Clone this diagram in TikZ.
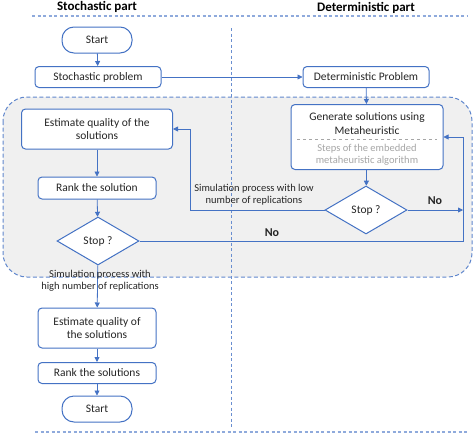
\documentclass[tikz,border=0pt]{standalone}
\usepackage{fontspec}
\setmainfont{Carlito}
\usetikzlibrary{arrows.meta,shapes.geometric}
\definecolor{lineblue}{HTML}{4472C4}
\definecolor{dashblue}{HTML}{8FAADC}
\definecolor{regiongray}{HTML}{F0F0F0}
\definecolor{softgray}{HTML}{A6A6A6}
\definecolor{inkgray}{HTML}{262626}
\tikzset{
  box/.style={draw=lineblue,line width=1pt,fill=white,rounded corners=4pt,align=center,inner sep=1pt,text=inkgray,font=\fontsize{11.5}{13.5}\selectfont},
  term/.style={box,rounded corners=12pt,minimum width=70pt,minimum height=26pt},
  stopdia/.style={diamond,draw=lineblue,line width=1pt,fill=white,minimum width=82pt,minimum height=48pt,shape aspect=1.7,inner sep=0pt,text=inkgray,font=\fontsize{11.5}{13.5}\selectfont},
  flow/.style={lineblue,line width=0.8pt,-{Triangle[length=5pt,width=5pt]}},
  sep/.style={dashblue,line width=1.3pt,dash pattern=on 3pt off 2.5pt},
  lbl/.style={align=center,text=inkgray,font=\fontsize{10.5}{12}\selectfont,inner sep=0pt}
}
\begin{document}
\begin{tikzpicture}[x=1pt,y=-1pt]
\useasboundingbox (0,0) rectangle (474,434);

\node[font=\fontsize{13}{15}\bfseries] (ttlS) at (97,7) {Stochastic part};
\node[font=\fontsize{13}{15}\bfseries] (ttlD) at (366,8) {Deterministic part};
\draw[sep] (32,16) -- (467,16);
\draw[sep] (35,432) -- (467,432);

\draw[lineblue!85,line width=1pt,dash pattern=on 4pt off 2.5pt,fill=regiongray,rounded corners=24pt] (3,97) rectangle (472,277);
\draw[lineblue!80,line width=1pt,dash pattern=on 3pt off 2.5pt] (231,28) -- (231,428);

\node[term] (start) at (97,40) {Start};
\node[box,minimum width=126pt,minimum height=21pt] (stoch) at (98,77) {Stochastic problem};
\node[box,minimum width=126pt,minimum height=21pt] (determ) at (366,77) {Deterministic Problem};

\node[box,minimum width=151pt,minimum height=40pt] (estA) at (97,129) {Estimate quality of the\\solutions};
\node[box,minimum width=118pt,minimum height=22pt] (rankA) at (97,188) {Rank the solution};
\node[stopdia] (stopA) at (98,241) {Stop ?};

\node[box,minimum width=118pt,minimum height=40pt] (estB) at (97,328) {Estimate quality of\\the solutions};
\node[box,minimum width=118pt,minimum height=21pt] (rankB) at (97,373) {Rank the solutions};
\node[term] (finish) at (97,409) {Start};

\node[box,minimum width=152pt,minimum height=65pt] (gen) at (367,137) {};
\node[lbl,font=\fontsize{11.5}{14}\selectfont] (genT) at (367,124) {Generate solutions using\\Metaheuristic};
\node[lbl,text=softgray,font=\fontsize{10.5}{12.5}\selectfont] (genS) at (367,155) {Steps of the embedded\\metaheuristic algorithm};
\draw[softgray,line width=0.8pt,dashed] (297,139) -- (437,139);
\node[stopdia] (stopB) at (366,210) {Stop ?};

\coordinate (lowturn) at (190,210);
\coordinate (noturn) at (463,241);
\coordinate (nomerge) at (463,210);

\draw[flow] (start) -- (stoch);
\draw[flow] (stoch) -- (determ);
\draw[flow] (determ) -- (gen);
\draw[flow] (gen) -- (stopB);
\draw[flow] (stopB.west) -- (lowturn) |- (estA.east);
\draw[flow] (estA) -- (rankA);
\draw[flow] (rankA) -- (stopA);
\draw[flow] (stopA) -- (estB);
\draw[flow] (estB) -- (rankB);
\draw[flow] (rankB) -- (finish);
\draw[flow] (stopA.east) -- (noturn) |- (gen.east);
\draw[flow] (stopB.east) -- (nomerge);

\node[lbl] (lowlbl) at (254,195) {Simulation process with low\\number of replications};
\node[lbl] (highlbl) at (100,281) {Simulation process with\\high number of replications};
\node[text=inkgray,font=\fontsize{12}{14}\bfseries] (noA) at (272,233) {No};
\node[text=inkgray,font=\fontsize{12}{14}\bfseries] (noB) at (435,201) {No};
\end{tikzpicture}
\end{document}
